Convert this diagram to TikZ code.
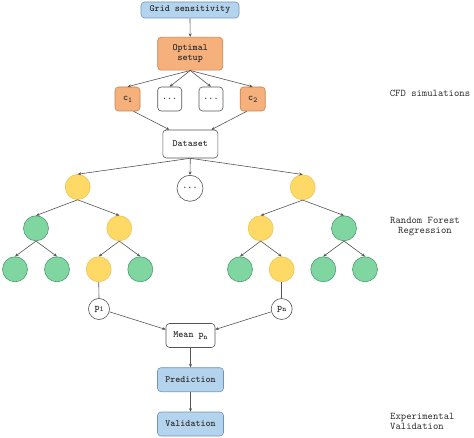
\documentclass[tikz,border=0pt]{standalone}
\usepackage{fontspec}
\usetikzlibrary{arrows.meta,calc}
\definecolor{bfill}{HTML}{B4D3EC}
\definecolor{bdraw}{HTML}{6F94BA}
\definecolor{ofill}{HTML}{F5B07C}
\definecolor{odraw}{HTML}{C6834C}
\definecolor{yfill}{HTML}{FFD966}
\definecolor{ydraw}{HTML}{EEC45A}
\definecolor{gfill}{HTML}{7FD6A0}
\definecolor{gdraw}{HTML}{4A9E6E}
\definecolor{edge}{HTML}{555555}
\definecolor{txt}{HTML}{2B2B2B}
\newcommand{\mysub}[1]{\raisebox{-1.8pt}{\fontsize{7.5}{8}\selectfont #1}}
\begin{document}
\begin{tikzpicture}[x=1pt,y=-1pt,
  box/.style={draw, rounded corners=3.5pt, line width=0.6pt, inner sep=0pt, align=center,
    text=txt, font=\fontsize{9.6}{10.5}\selectfont\ttfamily\bfseries},
  bluebox/.style={box, fill=bfill, draw=bdraw},
  orangebox/.style={box, fill=ofill, draw=odraw},
  whitebox/.style={box, fill=white, draw=edge},
  circ/.style={circle, draw, line width=0.6pt, inner sep=0pt, minimum size=25pt},
  ycirc/.style={circ, fill=yfill, draw=ydraw},
  gcirc/.style={circ, fill=gfill, draw=gdraw},
  wcirc/.style={circ, fill=white, draw=edge, text=txt, font=\fontsize{9.6}{10.5}\selectfont\ttfamily\bfseries},
  sidelabel/.style={text=txt, font=\fontsize{10.2}{10.3}\selectfont\ttfamily, inner sep=0pt},
  arr/.style={draw=edge, line width=0.6pt, -{Stealth[length=3.5pt,width=3pt]}},
  ln/.style={draw=edge, line width=0.6pt}]
\useasboundingbox (0,0) rectangle (474,438);

% top chain
\node[bluebox, minimum width=98pt, minimum height=16pt] (gs) at (190,10) {Grid sensitivity};
\node[orangebox, minimum width=65pt, minimum height=33pt] (opt) at (190.2,53.7) {Optimal\\setup};
\node[orangebox, minimum width=25pt, minimum height=24pt] (c1) at (127.5,99) {c\mysub{1}};
\node[whitebox, minimum width=24pt, minimum height=24pt] (d1) at (169.7,99) {...};
\node[whitebox, minimum width=24pt, minimum height=24pt] (d2) at (211,99) {...};
\node[orangebox, minimum width=25pt, minimum height=24pt] (c2) at (252.7,99) {c\mysub{2}};
\node[whitebox, minimum width=55pt, minimum height=28pt] (ds) at (190.3,144) {Dataset};

% forest roots
\node[ycirc] (rl) at (77.7,187) {};
\node[wcirc, minimum size=26pt] (dc) at (190,188.3) {...};
\node[ycirc] (rr) at (302.7,187.3) {};

% left tree
\node[gcirc] (l2a) at (36,228.3) {};
\node[ycirc] (l2b) at (119.3,228.3) {};
\node[gcirc] (l3a) at (15,269.3) {};
\node[gcirc] (l3b) at (57,269.3) {};
\node[ycirc] (l3c) at (98.7,269.3) {};
\node[gcirc] (l3d) at (140.3,269.3) {};

% right tree
\node[ycirc] (r2a) at (260.7,228.3) {};
\node[gcirc] (r2b) at (344,228.3) {};
\node[gcirc] (r3a) at (240,269.3) {};
\node[ycirc] (r3b) at (281.7,269.3) {};
\node[gcirc] (r3c) at (323.3,269.3) {};
\node[gcirc] (r3d) at (365,269.3) {};

% predictions
\node[wcirc, minimum size=21pt] (p1) at (99,309) {p\mysub{1}};
\node[wcirc, minimum size=21pt] (pn) at (281.7,309) {p\mysub{n}};
\node[whitebox, minimum width=49pt, minimum height=24pt] (mean) at (190.5,335.5) {Mean p\mysub{n}};
\node[bluebox, minimum width=66pt, minimum height=24pt] (pred) at (190.5,379.7) {Prediction};
\node[bluebox, minimum width=66pt, minimum height=24pt] (val) at (190.5,424) {Validation};

% side labels
\node[sidelabel] (cfd) at (430,93) {CFD simulations};
\node[sidelabel, align=center] (rf) at (425,226.7) {Random Forest\\Regression};
\node[sidelabel, align=left, anchor=west] (ev) at (390,421.3) {Experimental\\Validation};

% edges
\draw[arr] (gs.south) -- (opt.north);
\foreach \t in {c1,d1,d2,c2} \draw[arr] (opt.south) -- (\t.north);
\draw[arr] ($(c1.south)+(6,0)$) -- ($(ds.north)+(-21,0)$);
\draw[arr] ($(c2.south)+(-6,0)$) -- ($(ds.north)+(21,0)$);
\draw[arr] (ds.south) -- (rl.north);
\draw[arr] (ds.south) -- (dc.north);
\draw[arr] (ds.south) -- (rr.north);
\draw[arr] (rl.south) -- (l2a.north);
\draw[arr] (rl.south) -- (l2b.north);
\draw[arr] (l2a.south) -- (l3a.north);
\draw[arr] (l2a.south) -- (l3b.north);
\draw[arr] (l2b.south) -- (l3c.north);
\draw[arr] (l2b.south) -- (l3d.north);
\draw[arr] (rr.south) -- (r2a.north);
\draw[arr] (rr.south) -- (r2b.north);
\draw[arr] (r2a.south) -- (r3a.north);
\draw[arr] (r2a.south) -- (r3b.north);
\draw[arr] (r2b.south) -- (r3c.north);
\draw[arr] (r2b.south) -- (r3d.north);
\draw[ln] (l3c.south) -- (p1.north);
\draw[ln] (r3b.south) -- (pn.north);
\draw[arr] (p1.-15) -- ($(mean.west)+(0,-6)$);
\draw[arr] (pn.195) -- ($(mean.east)+(0,-6)$);
\draw[arr] (mean.south) -- (pred.north);
\draw[arr] (pred.south) -- (val.north);
\end{tikzpicture}
\end{document}
